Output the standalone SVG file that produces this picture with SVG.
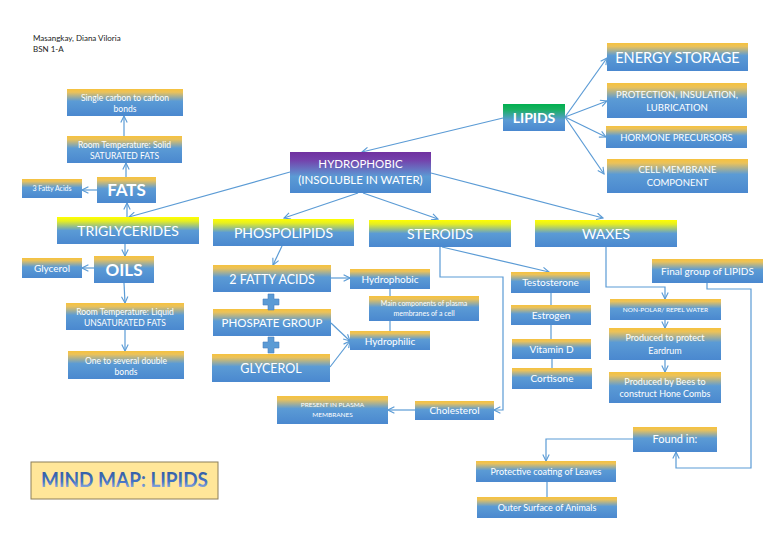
<svg xmlns="http://www.w3.org/2000/svg" width="768" height="543" viewBox="0 0 768 543">
<style>
text{font-family:Lato,"Liberation Sans",sans-serif;fill:#fff;text-anchor:middle}
.og{fill:url(#gOr)}
.yg{fill:url(#gYe)}
.pg{fill:url(#gPu)}
.gg{fill:url(#gGr)}
.c{fill:none;stroke:#5B9BD5;stroke-width:1.2}
.a{marker-end:url(#arr)}
.hd{fill:#222;text-anchor:start;font-size:8px}
.b{font-weight:bold}
</style>
<defs>
<linearGradient id="gOr" x1="0" y1="0" x2="0" y2="1">
<stop offset="0" stop-color="#F6C23E"/>
<stop offset="0.12" stop-color="#EBC25A"/>
<stop offset="0.45" stop-color="#5B9BD5"/>
<stop offset="1" stop-color="#4A88CF"/>
</linearGradient>
<linearGradient id="gYe" x1="0" y1="0" x2="0" y2="1">
<stop offset="0" stop-color="#FFFF00"/>
<stop offset="0.15" stop-color="#E6EE22"/>
<stop offset="0.5" stop-color="#5B9BD5"/>
<stop offset="1" stop-color="#4A88CF"/>
</linearGradient>
<linearGradient id="gPu" x1="0" y1="0" x2="0" y2="1">
<stop offset="0" stop-color="#7030A0"/>
<stop offset="0.2" stop-color="#7442AC"/>
<stop offset="0.6" stop-color="#5B9BD5"/>
<stop offset="1" stop-color="#4A88CF"/>
</linearGradient>
<linearGradient id="gGr" x1="0" y1="0" x2="0" y2="1">
<stop offset="0" stop-color="#00B050"/>
<stop offset="0.2" stop-color="#18B060"/>
<stop offset="0.6" stop-color="#5B9BD5"/>
<stop offset="1" stop-color="#4A88CF"/>
</linearGradient>
<linearGradient id="gTitle" x1="0" y1="0" x2="0" y2="1">
<stop offset="0" stop-color="#2F5597"/>
<stop offset="0.6" stop-color="#4472C4"/>
<stop offset="1" stop-color="#B4C7E7"/>
</linearGradient>
<marker id="arr" viewBox="0 0 10 10" refX="9" refY="5" markerWidth="8" markerHeight="8" markerUnits="userSpaceOnUse" orient="auto">
<path d="M1,1 L9,5 L1,9" fill="none" stroke="#5B9BD5" stroke-width="1.4"/>
</marker>
</defs>
<rect width="768" height="543" fill="#fff"/>

<text class="hd" x="33" y="41">Masangkay, Diana Viloria</text>
<text class="hd" x="33" y="52">BSN 1-A</text>

<g id="connectors">
<path class="c a" d="M503,118 L362,152"/>
<path class="c a" d="M565,117 L607,58"/>
<path class="c a" d="M565,117 L607,101"/>
<path class="c a" d="M565,117 L606,137"/>
<path class="c a" d="M565,117 L604,174"/>
<path class="c a" d="M290,172 L129,217"/>
<path class="c a" d="M358,193 L284,218"/>
<path class="c a" d="M363,193 L438,219"/>
<path class="c a" d="M431,173 L603,218"/>
<path class="c a" d="M127,217 L127,203"/>
<path class="c a" d="M126,177 L126,163"/>
<path class="c a" d="M124,136 L124,116"/>
<path class="c a" d="M97,190 L82,190"/>
<path class="c a" d="M125,244 L125,256"/>
<path class="c a" d="M94,268 L82,268"/>
<path class="c a" d="M124,283 L125,303"/>
<path class="c a" d="M125,330 L125,351"/>
<path class="c a" d="M282,246 L273,265"/>
<path class="c a" d="M331,278 L350,278"/>
<path class="c a" d="M331,323 L350,341"/>
<path class="c a" d="M330,367 L350,341"/>
<path class="c" d="M390,289 L390,296"/>
<path class="c" d="M390,321 L390,331"/>
<path class="c a" d="M440,247 L440,277 L503,277 L503,410 L494,410"/>
<path class="c a" d="M442,247 L549,272"/>
<path class="c a" d="M415,410 L388,410"/>
<path class="c" d="M551,293 L551,305 M551,325 L551,339 M552,359 L552,368"/>
<path class="c a" d="M606,247 L606,287 L665,287 L665,299"/>
<path class="c a" d="M665,320 L665,328"/>
<path class="c a" d="M665,360 L665,372"/>
<path class="c a" d="M707,283 L707,289 L751,289 L751,468 L676,468 L676,452"/>
<path class="c a" d="M633,439 L546,439 L546,461"/>
<path class="c" d="M547,482 L547,497"/>
</g>

<g id="lipids"><rect class="gg" x="503" y="104" width="62" height="27"/><text class="b" x="534" y="123" font-size="14">LIPIDS</text></g>
<g id="energy"><rect class="og" x="607" y="43" width="141" height="28"/><text x="677.5" y="62.5" font-size="14.5">ENERGY STORAGE</text></g>
<g id="protection"><rect class="og" x="607" y="83" width="140" height="35"/><text x="677" y="98" font-size="9.5">PROTECTION, INSULATION,</text><text x="677" y="111" font-size="9.5">LUBRICATION</text></g>
<g id="hormone"><rect class="og" x="606" y="126" width="141" height="22"/><text x="676.5" y="140.5" font-size="9.5">HORMONE PRECURSORS</text></g>
<g id="cell"><rect class="og" x="607" y="159" width="141" height="34"/><text x="677.5" y="173" font-size="9.5">CELL MEMBRANE</text><text x="677.5" y="186" font-size="9.5">COMPONENT</text></g>

<g id="hydrophobic"><rect class="pg" x="290" y="152" width="141" height="41"/><text x="360.5" y="168" font-size="11.5">HYDROPHOBIC</text><text x="360.5" y="184" font-size="11.5">(INSOLUBLE IN WATER)</text></g>

<g id="triglycerides"><rect class="yg" x="57" y="217" width="142" height="27"/><text x="128" y="236" font-size="14">TRIGLYCERIDES</text></g>
<g id="phospolipids"><rect class="yg" x="213" y="219" width="141" height="27"/><text x="283.5" y="238" font-size="14">PHOSPOLIPIDS</text></g>
<g id="steroids"><rect class="yg" x="369" y="220" width="142" height="27"/><text x="440" y="239" font-size="14">STEROIDS</text></g>
<g id="waxes"><rect class="yg" x="535" y="220" width="142" height="27"/><text x="606" y="239" font-size="14">WAXES</text></g>

<g id="single"><rect class="og" x="67" y="89" width="116" height="27"/><text x="125" y="101" font-size="8.5">Single carbon to carbon</text><text x="125" y="112" font-size="8.5">bonds</text></g>
<g id="solid"><rect class="og" x="67" y="136" width="115" height="27"/><text x="124.5" y="148" font-size="8.5">Room Temperature: Solid</text><text x="124.5" y="159" font-size="8.5">SATURATED FATS</text></g>
<g id="fatty3"><rect class="og" x="22" y="179" width="60" height="19"/><text x="52" y="191" font-size="7">3 Fatty Acids</text></g>
<g id="fats"><rect class="og" x="97" y="177" width="59" height="26"/><text class="b" x="126.5" y="196" font-size="17">FATS</text></g>
<g id="oils"><rect class="og" x="94" y="256" width="60" height="27"/><text class="b" x="124" y="276" font-size="17">OILS</text></g>
<g id="glycerol1"><rect class="og" x="22" y="258" width="60" height="20"/><text x="52" y="272" font-size="10">Glycerol</text></g>
<g id="liquid"><rect class="og" x="66" y="303" width="118" height="27"/><text x="125" y="315" font-size="8.5">Room Temperature: Liquid</text><text x="125" y="326" font-size="8.5">UNSATURATED FATS</text></g>
<g id="double"><rect class="og" x="68" y="351" width="116" height="28"/><text x="126" y="364" font-size="8.5">One to several double</text><text x="126" y="375" font-size="8.5">bonds</text></g>

<g id="fatty2"><rect class="og" x="213" y="265" width="118" height="27"/><text x="272" y="283.5" font-size="12.5">2 FATTY ACIDS</text></g>
<g id="phospate"><rect class="og" x="213" y="309" width="118" height="27"/><text x="272" y="327" font-size="11.5">PHOSPATE GROUP</text></g>
<g id="glycerol2"><rect class="og" x="212" y="354" width="118" height="28"/><text x="271" y="372.5" font-size="12.5">GLYCEROL</text></g>
<g id="plus1"><path d="M268,294 h6 v5 h5 v6 h-5 v5 h-6 v-5 h-5 v-6 h5 z" fill="#5B9BD5" stroke="#4A7FBF" stroke-width="0.6"/></g>
<g id="plus2"><path d="M268,337 h6 v5 h5 v6 h-5 v5 h-6 v-5 h-5 v-6 h5 z" fill="#5B9BD5" stroke="#4A7FBF" stroke-width="0.6"/></g>
<g id="hphob"><rect class="og" x="350" y="269" width="80" height="20"/><text x="390" y="283" font-size="10">Hydrophobic</text></g>
<g id="main"><rect class="og" x="369" y="296" width="110" height="25"/><text x="424" y="306" font-size="7">Main components of plasma</text><text x="424" y="316" font-size="7">membranes of a cell</text></g>
<g id="hphil"><rect class="og" x="350" y="331" width="80" height="19"/><text x="390" y="344.5" font-size="10">Hydrophilic</text></g>

<g id="present"><rect class="og" x="277" y="396" width="111" height="28"/><text x="332.5" y="407" font-size="6.5">PRESENT IN PLASMA</text><text x="332.5" y="417" font-size="6.5">MEMBRANES</text></g>
<g id="cholesterol"><rect class="og" x="415" y="401" width="79" height="19"/><text x="454.5" y="414" font-size="10">Cholesterol</text></g>
<g id="testosterone"><rect class="og" x="511" y="272" width="79" height="21"/><text x="550.5" y="286" font-size="10">Testosterone</text></g>
<g id="estrogen"><rect class="og" x="511" y="305" width="80" height="20"/><text x="551" y="319" font-size="10">Estrogen</text></g>
<g id="vitamin"><rect class="og" x="512" y="339" width="79" height="20"/><text x="551.5" y="353" font-size="10">Vitamin D</text></g>
<g id="cortisone"><rect class="og" x="512" y="368" width="80" height="21"/><text x="552" y="382" font-size="10">Cortisone</text></g>

<g id="final"><rect class="og" x="652" y="259" width="111" height="24"/><text x="707.5" y="274.5" font-size="10">Final group of LIPIDS</text></g>
<g id="nonpolar"><rect class="og" x="610" y="299" width="111" height="21"/><text x="665.5" y="311.5" font-size="6.5">NON-POLAR/ REPEL WATER</text></g>
<g id="protect"><rect class="og" x="609" y="328" width="112" height="32"/><text x="665" y="341" font-size="9">Produced to protect</text><text x="665" y="354" font-size="9">Eardrum</text></g>
<g id="bees"><rect class="og" x="609" y="372" width="112" height="31"/><text x="665" y="385" font-size="9">Produced by Bees to</text><text x="665" y="397" font-size="9">construct Hone Combs</text></g>
<g id="found"><rect class="og" x="633" y="427" width="84" height="25"/><text x="675" y="443" font-size="11">Found in:</text></g>
<g id="leaves"><rect class="og" x="476" y="461" width="140" height="21"/><text x="546" y="474.5" font-size="9">Protective coating of Leaves</text></g>
<g id="outer"><rect class="og" x="477" y="497" width="140" height="21"/><text x="547" y="510.5" font-size="9">Outer Surface of Animals</text></g>

<g id="title"><rect x="31" y="462" width="187" height="37" fill="#FFE699" stroke="#8C7F5A" stroke-width="1"/><text class="b" x="124.5" y="487" font-size="20" textLength="167" lengthAdjust="spacingAndGlyphs" style="fill:url(#gTitle)">MIND MAP: LIPIDS</text></g>
</svg>
